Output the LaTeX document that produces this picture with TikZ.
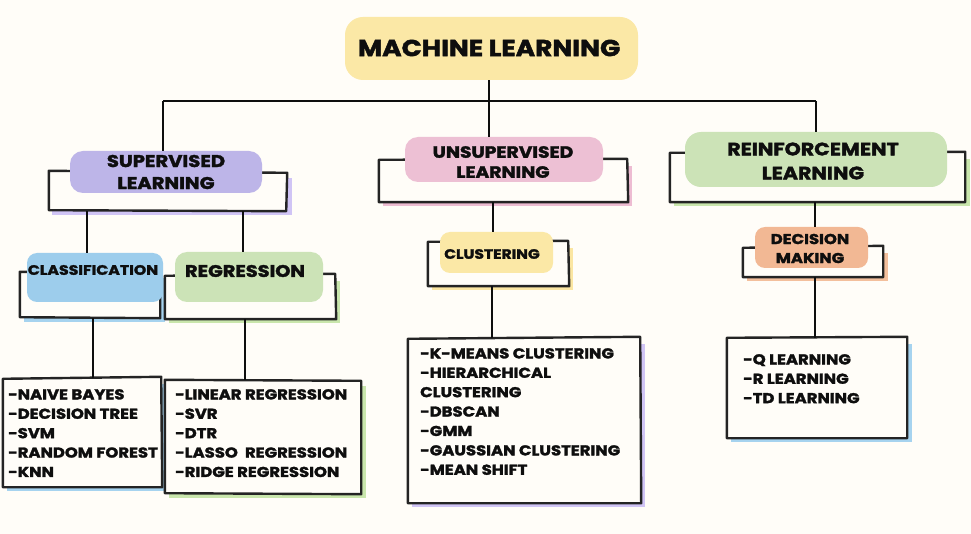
\documentclass[tikz,border=0pt]{standalone}
\usepackage{fontspec}
\setmainfont{Poppins}[BoldFeatures={FakeBold=2,FakeStretch=1.15}]
\usetikzlibrary{fit,calc}
\definecolor{bg}{HTML}{FFFDF8}
\definecolor{ink}{HTML}{0E0E0E}
\definecolor{outk}{HTML}{242424}
\definecolor{cyel}{HTML}{FBE8A6}
\definecolor{cpur}{HTML}{BDB5E8}
\definecolor{spur}{HTML}{D0C4F5}
\definecolor{cblu}{HTML}{9DCDEC}
\definecolor{sblu}{HTML}{A6D3EF}
\definecolor{cgrn}{HTML}{CCE3B7}
\definecolor{sgrn}{HTML}{C9E6AC}
\definecolor{cpnk}{HTML}{EDC0D4}
\definecolor{spnk}{HTML}{EDBCD2}
\definecolor{syel}{HTML}{FBE6A2}
\definecolor{corg}{HTML}{F2B894}
\definecolor{sorg}{HTML}{F3BF9C}
\newcommand\fsz[2]{\fontsize{#1}{#2}\selectfont}
% shadow + frame node: name, x1, y1, x2, y2, shadow colour
\newcommand\skbox[6]{%
  \fill[#6] (#2+4,#3+6) rectangle (#4+5,#5+4);
  \node[fit={(#2,#3) (#4,#5)}, inner sep=0pt] (#1) {};}
% hand-drawn frame through jittered corners
\newcommand\skout[9]{%
  \filldraw[frame] ([shift={(#2,#3)}]#1.north west) -- ([shift={(#4,#5)}]#1.north east)
    -- ([shift={(#6,#7)}]#1.south east) -- ([shift={(#8,#9)}]#1.south west) -- cycle;}
\begin{document}
\begin{tikzpicture}[x=1pt,y=-1pt,
  conn/.style={line width=2.6pt, draw=ink},
  frame/.style={line width=2.4pt, draw=outk, fill=bg, line join=round},
  blob/.style={rounded corners=13pt, inner sep=0pt, draw=none},
  head/.style={text=ink, align=center, inner sep=0pt},
  items/.style={text=ink, align=left, inner sep=0pt, anchor=north west,
    font=\bfseries\fsz{14.3}{19.4}}]
\fill[bg] (0,0) rectangle (971,534);
\useasboundingbox (0,0) rectangle (971,534);

% title
\node[blob, fill=cyel, rounded corners=18pt, fit={(345,17) (638,80)}] (mlblob) {};
\node[head, font=\bfseries\fsz{23}{27}] (mltxt) at (489,48) {MACHINE LEARNING};

% supervised
\skbox{supbox}{48}{172}{287}{211}{spur}
\skout{supbox}{1}{-1}{0}{1}{-1}{0}{1}{-1}
\node[blob, fill=cpur, fit={(70,151) (262,193)}] (supblob) {};
\node[head, font=\bfseries\fsz{17}{22}] (suptxt) at (166,172) {SUPERVISED\\LEARNING};

% classification
\skbox{clsbox}{20}{272}{160}{318}{sblu}
\skout{clsbox}{0}{0}{0}{1}{0}{0}{0}{-1}
\node[blob, fill=cblu, rounded corners=10pt, fit={(27,253) (163,302)}] (clsblob) {};
\node[head, font=\bfseries\fsz{13.7}{15}] (clstxt) at (93,270) {CLASSIFICATION};

% regression
\skbox{regbox}{165}{275}{335}{319}{sgrn}
\skout{regbox}{0}{1}{0}{-1}{1}{0}{0}{0}
\node[blob, fill=cgrn, rounded corners=12pt, fit={(175,252) (323,302)}] (regblob) {};
\node[head, font=\bfseries\fsz{16.8}{19}] (regtxt) at (245,271) {REGRESSION};

% list 1
\skbox{listA}{3}{378}{161}{487}{sblu}
\skout{listA}{0}{1}{0}{-1}{1}{0}{0}{0}
\node[items] (listAtxt) at (8,389) {-NAIVE BAYES\\-DECISION TREE\\-SVM\\-RANDOM FOREST\\-KNN};

% list 2
\skbox{listB}{165}{380}{361}{494}{sgrn}
\skout{listB}{0}{0}{0}{1}{0}{0}{0}{-1}
\node[items] (listBtxt) at (175,389) {-LINEAR REGRESSION\\-SVR\\-DTR\\-LASSO\enspace REGRESSION\\-RIDGE REGRESSION};

% unsupervised
\skbox{unsbox}{379}{160}{627}{202}{spnk}
\skout{unsbox}{0}{0}{0}{-1}{1}{0}{0}{0}
\node[blob, fill=cpnk, fit={(405,137) (603,182)}] (unsblob) {};
\node[head, font=\bfseries\fsz{16.3}{20}] (unstxt) at (503,162) {UNSUPERVISED\\LEARNING};

% clustering
\skbox{clubox}{428}{242}{568}{286}{syel}
\skout{clubox}{0}{0}{0}{-1}{1}{0}{0}{0}
\node[blob, fill=cyel, rounded corners=10pt, fit={(440,232) (553,273)}] (clublob) {};
\node[head, font=\bfseries\fsz{13.5}{15}] (clutxt) at (492,254) {CLUSTERING};

% list 3
\skbox{listC}{408}{338}{640}{503}{spur}
\skout{listC}{0}{1}{0}{-1}{1}{0}{0}{0}
\node[items] (listCtxt) at (420,348) {-K-MEANS CLUSTERING\\-HIERARCHICAL\\CLUSTERING\\-DBSCAN\\-GMM\\-GAUSSIAN CLUSTERING\\-MEAN SHIFT};

% reinforcement
\skbox{reibox}{670}{153}{965}{202}{sgrn}
\skout{reibox}{0}{0}{0}{-1}{0}{0}{0}{0}
\node[blob, fill=cgrn, rounded corners=16pt, fit={(685,132) (947,187)}] (reiblob) {};
\node[head, font=\bfseries\fsz{17.9}{24}] (reitxt) at (813,161) {REINFORCEMENT\\LEARNING};

% decision making
\skbox{decbox}{743}{247}{883}{277}{sorg}
\skout{decbox}{0}{1}{0}{-1}{0}{0}{0}{0}
\node[blob, fill=corg, rounded corners=10pt, fit={(755,227) (868,268)}] (decblob) {};
\node[head, font=\bfseries\fsz{14.3}{19}] (dectxt) at (810,248.5) {DECISION\\MAKING};

% list 4
\skbox{listD}{727}{338}{907}{438}{sblu}
\skout{listD}{0}{0}{0}{-1}{0}{0}{0}{0}
\node[items] (listDtxt) at (743,354) {-Q LEARNING\\-R LEARNING\\-TD LEARNING};

% connectors
\coordinate (xt) at (489,101);
\coordinate (xl) at (163,101);
\coordinate (xr) at (816,101);
\coordinate (xc) at (87,0);
\coordinate (xg) at (243,0);
\coordinate (xa) at (93,0);
\coordinate (xb) at (245,0);
\coordinate (xu) at (493,0);
\coordinate (xv) at (492,0);
\coordinate (xd) at (815,0);
\draw[conn] (mlblob.south -| xt) -- (xt);
\draw[conn] (xl) -- (xr);
\draw[conn] (xl) -- (xl |- supblob.north);
\draw[conn] (xt) -- (xt |- unsblob.north);
\draw[conn] (xr) -- (xr |- reiblob.north);
\draw[conn] (supbox.south -| xc) -- (clsblob.north -| xc);
\draw[conn] (supbox.south -| xg) -- (regblob.north -| xg);
\draw[conn] (clsbox.south -| xa) -- (listA.north -| xa);
\draw[conn] (regbox.south -| xb) -- (listB.north -| xb);
\draw[conn] (unsbox.south -| xu) -- (clublob.north -| xu);
\draw[conn] (clubox.south -| xv) -- (listC.north -| xv);
\draw[conn] (reibox.south -| xd) -- (decblob.north -| xd);
\draw[conn] (decbox.south -| xd) -- (listD.north -| xd);
\end{tikzpicture}
\end{document}
